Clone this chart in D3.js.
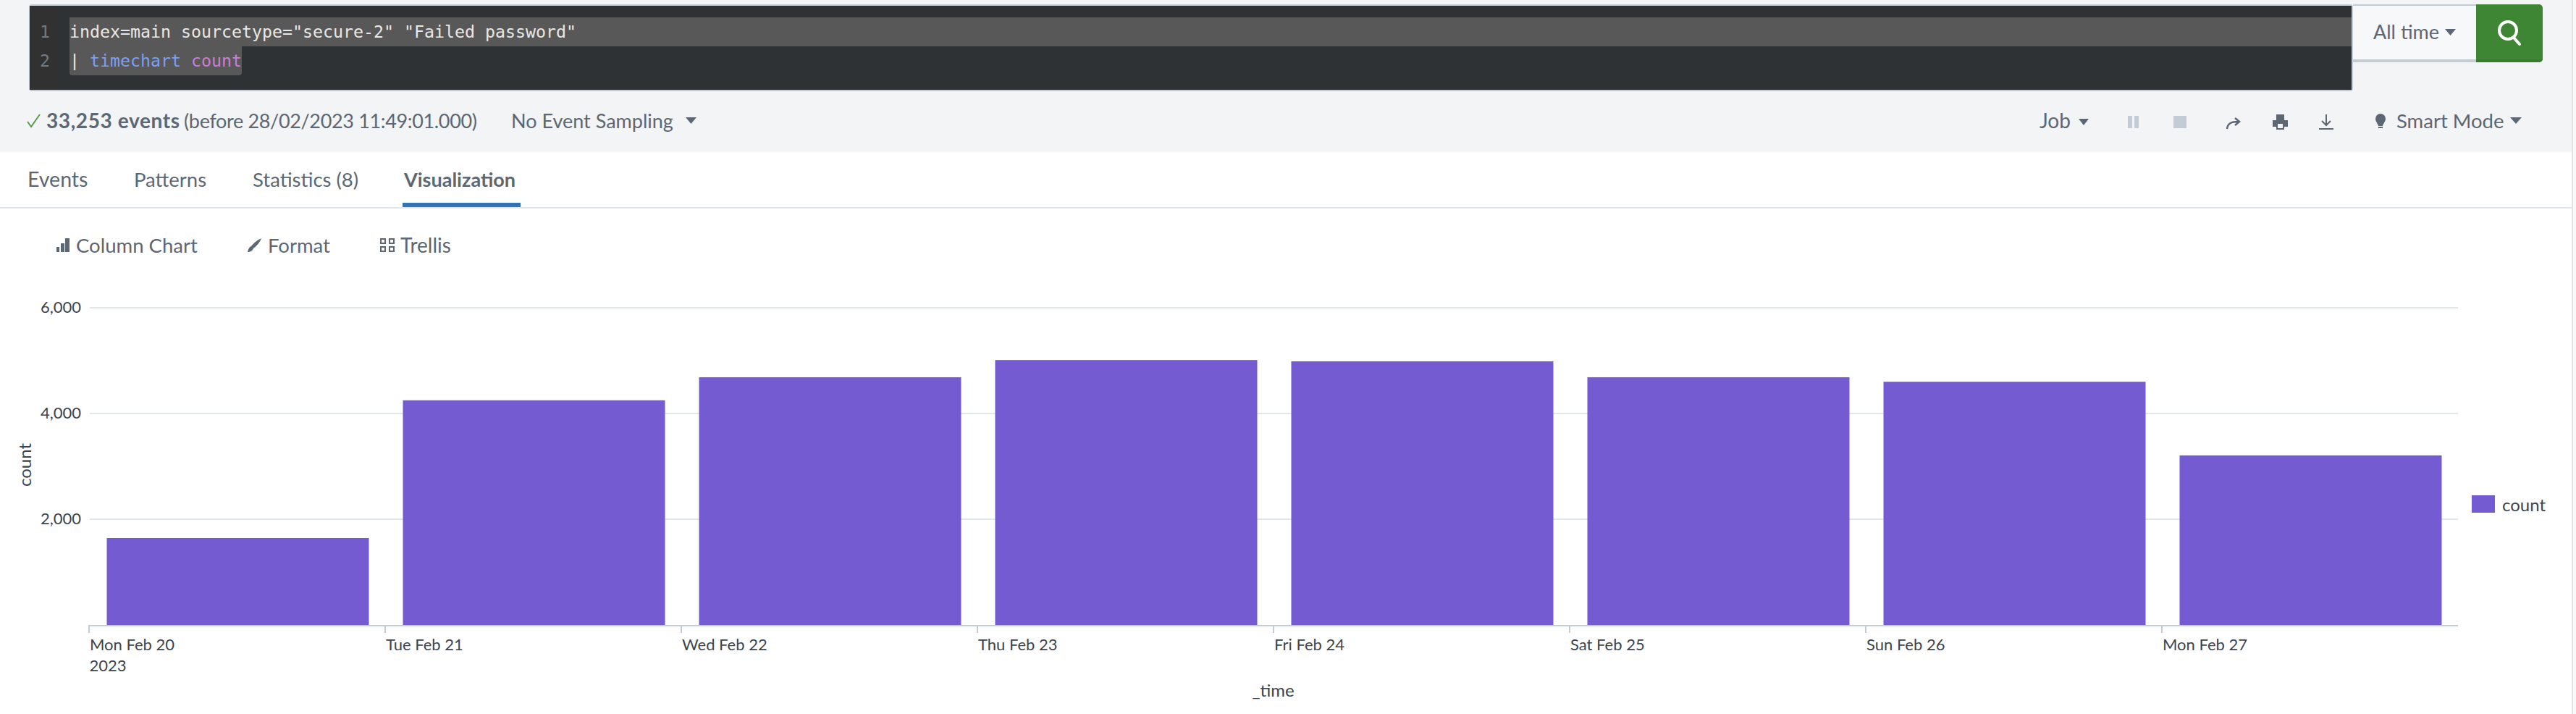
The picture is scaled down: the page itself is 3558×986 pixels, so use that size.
<!DOCTYPE html>
<html>
<head>
<meta charset="utf-8">
<script src="https://cdn.jsdelivr.net/npm/d3@7"></script>
<style>
  body { margin: 0; background: #fff; overflow: hidden; }
  svg { display: block; }
  text { font-family: Lato, "Noto Sans", sans-serif; }
  .mono { font-family: "DejaVu Sans Mono", monospace; font-size: 23.25px; }
  .axis path, .axis line { shape-rendering: crispEdges; }
</style>
</head>
<body>
<svg></svg>
<script>
const width = 3558;
const height = 986;

// chart data
const days = ["2023-02-20", "2023-02-21", "2023-02-22", "2023-02-23", "2023-02-24", "2023-02-25", "2023-02-26", "2023-02-27"];
const counts = [1640, 4240, 4675, 5000, 4975, 4675, 4590, 3200];
const dayLabels = ["Mon Feb 20", "Tue Feb 21", "Wed Feb 22", "Thu Feb 23", "Fri Feb 24", "Sat Feb 25", "Sun Feb 26", "Mon Feb 27"];
const yearLabel = "2023";
const yTicks = [2000, 4000, 6000];
const seriesName = "count";
const xTitle = "_time";

// page texts
const queryLine1 = 'index=main sourcetype="secure-2" "Failed password"';
const queryLine2 = ["| ", "timechart", " ", "count"];
const tabs = ["Events", "Patterns", "Statistics (8)", "Visualization"];

const purple = "#745bd1";
const grey = "#5c6773";
const dark = "#3c444d";

const svg = d3.select("svg").attr("width", width).attr("height", height);

function label(parent, x, y, str, size, color, weight, anchor) {
  return parent.append("text")
    .attr("x", x).attr("y", y)
    .attr("font-size", size)
    .attr("fill", color)
    .attr("font-weight", weight || 400)
    .attr("text-anchor", anchor || "start")
    .text(str);
}

function caret(parent, x0, x1, y0, y1, color) {
  parent.append("path")
    .attr("d", `M${x0},${y0}L${x1},${y0}L${(x0 + x1) / 2},${y1}Z`)
    .attr("fill", color || grey);
}

function drawPage() {
  const g = svg.append("g");
  g.append("rect").attr("width", width).attr("height", 210).attr("fill", "#f2f4f5");

  // search editor
  g.append("rect").attr("x", 40).attr("y", 6).attr("width", 3210).attr("height", 120).attr("rx", 4).attr("fill", "#c3cbd4");
  g.append("rect").attr("x", 41).attr("y", 8).attr("width", 3207).attr("height", 116).attr("fill", "#2f3235");
  g.append("rect").attr("x", 41).attr("y", 8).attr("width", 39).attr("height", 116).attr("fill", "#313131");
  g.append("rect").attr("x", 96).attr("y", 24).attr("width", 3152).attr("height", 40).attr("fill", "#585858");
  g.append("path").attr("d", "M96,64H334V100a4,4 0 0 1 -4,4H100a4,4 0 0 1 -4,-4Z").attr("fill", "#585858");

  g.append("text").attr("class", "mono").attr("x", 55).attr("y", 52).attr("fill", "#6f7a85").text("1");
  g.append("text").attr("class", "mono").attr("x", 55).attr("y", 92).attr("fill", "#6f7a85").text("2");
  g.append("text").attr("class", "mono").attr("x", 96).attr("y", 52).attr("fill", "#e8e8e8").attr("xml:space", "preserve").text(queryLine1);
  const q2 = g.append("text").attr("class", "mono").attr("x", 96).attr("y", 92).attr("xml:space", "preserve");
  const q2Colors = ["#e8e8e8", "#7c9ff5", "#e8e8e8", "#c97fd8"];
  queryLine2.forEach((s, i) => q2.append("tspan").attr("fill", q2Colors[i]).text(s));

  // time range + search button
  g.append("rect").attr("x", 3250).attr("y", 6).attr("width", 172).attr("height", 80).attr("fill", "#c3cbd4");
  g.append("rect").attr("x", 3250).attr("y", 8).attr("width", 172).attr("height", 74).attr("fill", "#f7f8fa");
  label(g, 3278, 54, "All time", 27, grey);
  caret(g, 3377, 3392, 40, 49);
  g.append("path").attr("d", "M3420,6H3507a5,5 0 0 1 5,5V81a5,5 0 0 1 -5,5H3420Z").attr("fill", "#3f8634");
  g.append("path").attr("d", "M3420,82H3512V81a5,5 0 0 1 -5,5H3420Z").attr("fill", "#387a2e");
  g.append("circle").attr("cx", 3464).attr("cy", 42).attr("r", 12).attr("fill", "none").attr("stroke", "#fff").attr("stroke-width", 4);
  g.append("path").attr("d", "M3472,52L3480,61").attr("stroke", "#fff").attr("stroke-width", 4).attr("stroke-linecap", "round");

  // status row
  g.append("path").attr("d", "M38,168L43,175L55,158").attr("fill", "none").attr("stroke", "#5a9a4e").attr("stroke-width", 2);
  label(g, 64, 177, "33,253 events", 28, grey, 700).attr("letter-spacing", 0.6);
  label(g, 254, 177, "(before 28/02/2023 11:49:01.000)", 27, grey).attr("letter-spacing", -0.35);
  label(g, 706, 177, "No Event Sampling", 27, grey);
  caret(g, 947, 962, 162, 171);

  label(g, 2817, 177, "Job", 28, grey);
  caret(g, 2871, 2885, 164, 173);
  g.append("rect").attr("x", 2939).attr("y", 160).attr("width", 6).attr("height", 17).attr("fill", "#c3cbd4");
  g.append("rect").attr("x", 2948).attr("y", 160).attr("width", 6).attr("height", 17).attr("fill", "#c3cbd4");
  g.append("rect").attr("x", 3002).attr("y", 160).attr("width", 18).attr("height", 17).attr("fill", "#c3cbd4");
  g.append("path").attr("d", "M3076,178C3077,170 3082,168 3092,168M3087,163L3093,168L3087,173").attr("fill", "none").attr("stroke", grey).attr("stroke-width", 2.5);
  g.append("path").attr("fill", grey).attr("fill-rule", "evenodd")
    .attr("d", "M3144,158H3155V166H3160V175H3155V179H3144V175H3139V166H3144ZM3146,171V177H3153V171Z");
  g.append("path").attr("d", "M3213,158V172M3207,167L3213,173L3219,167").attr("fill", "none").attr("stroke", grey).attr("stroke-width", 2);
  g.append("rect").attr("x", 3203).attr("y", 177).attr("width", 20).attr("height", 2).attr("fill", grey);
  g.append("path").attr("fill", grey).attr("d", "M3288,157a7,7 0 0 1 7,7c0,4 -3,6 -4,10h-6c-1,-4 -4,-6 -4,-10a7,7 0 0 1 7,-7ZM3285,175h6v2h-6Z");
  label(g, 3310, 177, "Smart Mode", 27.5, grey);
  caret(g, 3467, 3483, 162, 171);

  // tabs
  const tabX = [38, 185, 349, 558];
  const tabSize = [28.5, 27.5, 27.5, 27];
  tabs.forEach((t, i) => label(g, tabX[i], 258, t, tabSize[i], grey, i === 3 ? 700 : 400));
  g.append("rect").attr("y", 286).attr("width", width).attr("height", 2).attr("fill", "#e1e6eb");
  g.append("rect").attr("x", 556).attr("y", 280).attr("width", 163).attr("height", 6).attr("fill", "#3273b7");

  // viz toolbar
  [[78, 341, 4, 7], [84, 336, 5, 12], [90, 329, 6, 19]].forEach(b =>
    g.append("rect").attr("x", b[0]).attr("y", b[1]).attr("width", b[2]).attr("height", b[3]).attr("fill", grey));
  label(g, 105, 349, "Column Chart", 27.5, grey);
  g.append("path").attr("fill", grey).attr("d", "M361,329C359,335 354,340 350,343C349,346 346,348 342,348C343,344 344,341 347,340C350,336 356,331 361,329Z");
  label(g, 370, 349, "Format", 27.5, grey);
  [[525, 329], [537, 329], [525, 340], [537, 340]].forEach(b =>
    g.append("rect").attr("x", b[0] + 1).attr("y", b[1] + 1).attr("width", 6).attr("height", 6).attr("fill", "none").attr("stroke", grey).attr("stroke-width", 2));
  label(g, 553, 349, "Trellis", 28, grey);

  // window edge
  g.append("rect").attr("x", 3552).attr("width", 2).attr("height", height).attr("fill", "#e3e3e3");
  g.append("rect").attr("x", 3554).attr("width", 4).attr("height", height).attr("fill", "#f9f9f9");
}

function drawChart() {
  const dates = days.map(d => new Date(d + "T00:00:00Z"));
  const end = d3.utcDay.offset(dates[dates.length - 1], 1);
  const x = d3.scaleUtc().domain([dates[0], end]).range([122.5, 3394.5]);
  const y = d3.scaleLinear().domain([0, 6000]).range([863, 424]);
  const g = svg.append("g");

  // gridlines
  const grid = g.append("g").attr("class", "axis").attr("transform", "translate(124,0)")
    .call(d3.axisLeft(y).tickValues(yTicks).tickSize(0).tickPadding(12).tickFormat(d3.format(",")));
  grid.select(".domain").remove();
  grid.selectAll("text").attr("font-size", 22).attr("fill", dark).style("font-family", "Lato");
  grid.selectAll("line").attr("x2", 3394.5 - 124).attr("stroke", "#e1e6eb").attr("stroke-width", 2);

  // bars
  const barPad = 25;
  const barW = x(dates[1]) - x(dates[0]) - 47;
  g.selectAll("rect.bar").data(counts).join("rect")
    .attr("class", "bar")
    .attr("x", (d, i) => x(dates[i]) + barPad)
    .attr("y", d => y(d))
    .attr("width", barW)
    .attr("height", d => y(0) - y(d))
    .attr("fill", purple);

  // x axis
  const xAxis = g.append("g").attr("class", "axis").attr("transform", "translate(0,863)")
    .call(d3.axisBottom(x).tickValues(dates).tickSize(11).tickSizeOuter(0).tickFormat((d, i) => dayLabels[i]));
  xAxis.select(".domain").attr("stroke", "#c3cbd4").attr("stroke-width", 2);
  xAxis.selectAll("line").attr("stroke", "#c3cbd4").attr("stroke-width", 2);
  xAxis.selectAll("text")
    .attr("text-anchor", "start").attr("x", 1).attr("y", 0).attr("dy", 35)
    .attr("font-size", 22).attr("fill", dark).style("font-family", "Lato");

  label(g, x(dates[0]) + 1, 927, yearLabel, 22, dark);
  label(g, x(dates[4]), 962, xTitle, 24, dark, 400, "middle");
  label(g, 0, 0, seriesName, 24, dark, 400, "middle")
    .attr("transform", "translate(43,642) rotate(-90)");

  // legend
  g.append("rect").attr("x", 3414).attr("y", 684).attr("width", 32).attr("height", 24).attr("fill", purple);
  label(g, 3456, 706, seriesName, 24, dark);
}

drawPage();
drawChart();
</script>
</body>
</html>
